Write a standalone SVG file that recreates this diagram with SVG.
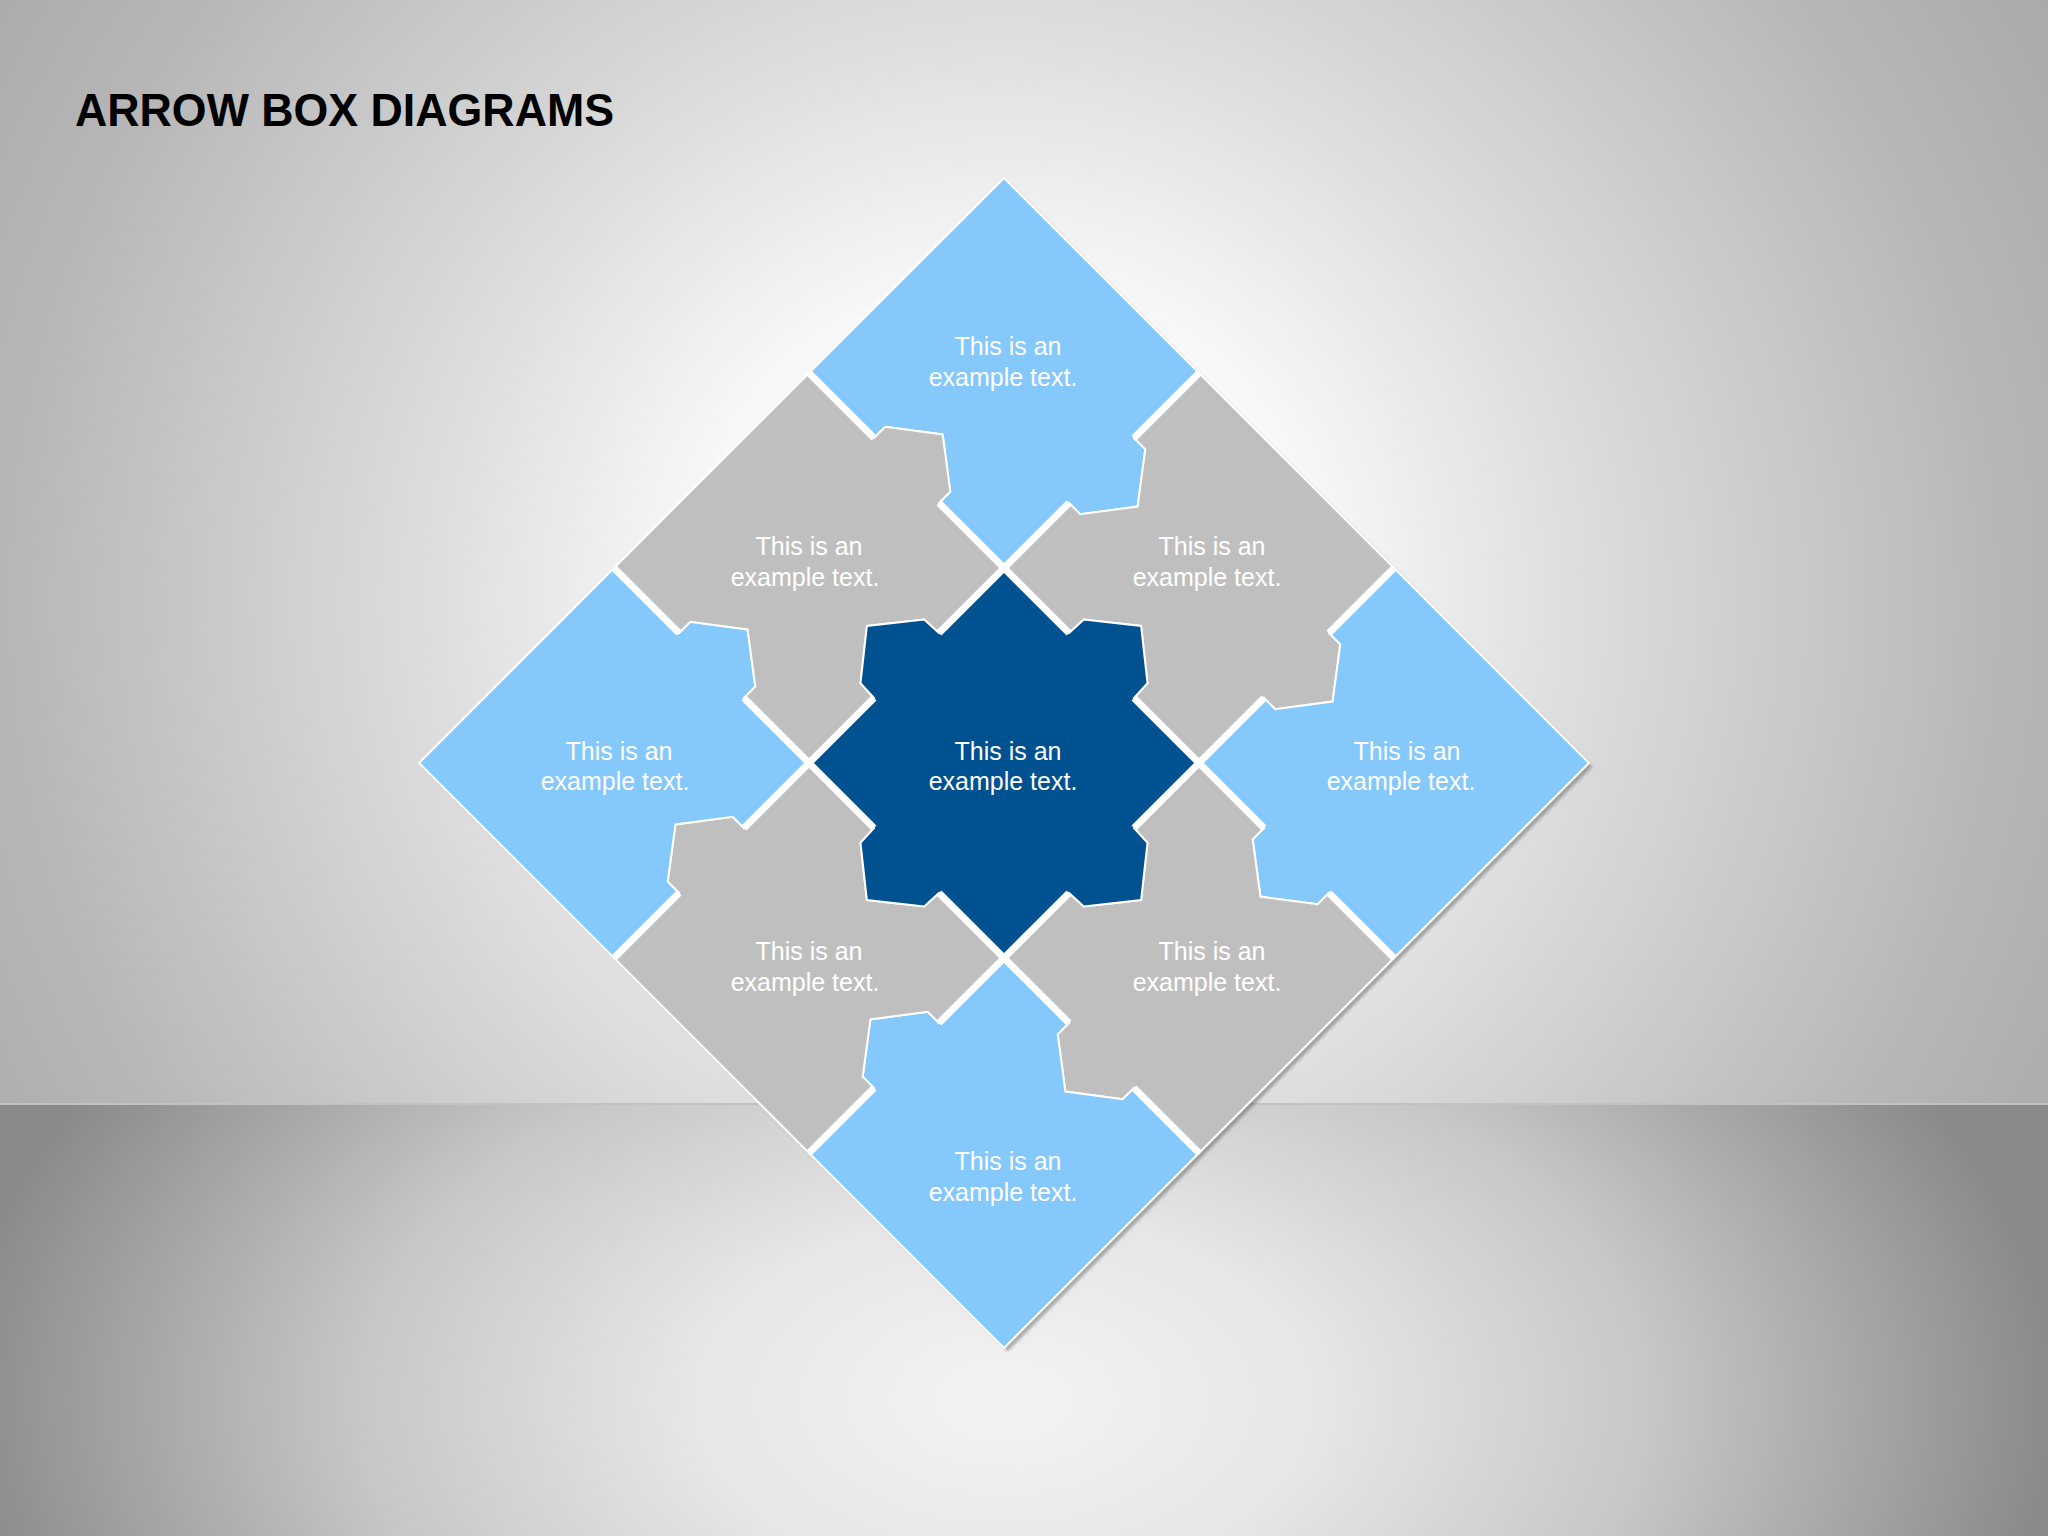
<svg xmlns="http://www.w3.org/2000/svg" width="2048" height="1536" viewBox="0 0 2048 1536">
<defs>
<radialGradient id="bgTop" gradientUnits="userSpaceOnUse" cx="1004" cy="600" r="1300">
<stop offset="0" stop-color="#ffffff"/>
<stop offset="0.24" stop-color="#f8f8f8"/>
<stop offset="0.45" stop-color="#dcdcdc"/>
<stop offset="0.77" stop-color="#b6b6b6"/>
<stop offset="1" stop-color="#a4a4a4"/>
</radialGradient>
<radialGradient id="bgBot" gradientUnits="userSpaceOnUse" cx="1004" cy="1400" r="1050" gradientTransform="translate(0 1400) scale(1 0.6) translate(0 -1400)">
<stop offset="0" stop-color="#f3f3f3"/>
<stop offset="0.3" stop-color="#e6e6e6"/>
<stop offset="0.62" stop-color="#c6c6c6"/>
<stop offset="1" stop-color="#8a8a8a"/>
</radialGradient>
<filter id="shadow" x="-10%" y="-10%" width="120%" height="120%">
<feGaussianBlur stdDeviation="1.5"/>
</filter>
<style>
.blue{fill:#85C8FB;stroke:#ffffff;stroke-width:2;stroke-linejoin:miter}
.gray{fill:#BFBFBF;stroke:#ffffff;stroke-width:2;stroke-linejoin:miter}
.dark{fill:#00518F;stroke:#ffffff;stroke-width:2;stroke-linejoin:miter}
.lbl{font-family:"Liberation Sans",Arial,sans-serif;font-size:25px;fill:#ffffff;text-anchor:middle}
.title{font-family:"Liberation Sans",Arial,sans-serif;font-size:47px;font-weight:bold;fill:#000000}
.gap{fill:none;stroke:#ffffff;stroke-width:7;stroke-linecap:butt}
</style>
</defs>
<rect x="0" y="0" width="2048" height="1104" fill="url(#bgTop)"/>
<rect x="0" y="1104" width="2048" height="432" fill="url(#bgBot)"/>
<line x1="0" y1="1104" x2="2048" y2="1104" stroke="#c2c2c2" stroke-width="2"/>
<text class="title" x="75" y="126" textLength="539" lengthAdjust="spacingAndGlyphs">ARROW BOX DIAGRAMS</text>
<polygon points="1004,178 1589,763 1004,1348 419,763" fill="#000000" opacity="0.28" transform="translate(3.5 3.5)" filter="url(#shadow)"/>
<g id="node-top">
<polygon class="blue" points="1004,178 1199,373 1134,438 1145.3,449.3 1137.6,506.6 1080.3,514.3 1069,503 1004,568 939,503 950.3,491.7 942.6,434.4 885.3,426.7 874,438 809,373"/>
<text class="lbl" x="1008" y="355">This is an</text>
<text class="lbl" x="1003" y="386">example text.</text>
</g>
<g id="node-upper-right">
<polygon class="gray" points="1199,373 1394,568 1329,633 1340.3,644.3 1332.6,701.6 1275.3,709.3 1264,698 1199,763 1134,698 1147.5,683.2 1141.1,625.9 1083.8,619.5 1069,633 1004,568 1069,503 1080.3,514.3 1137.6,506.6 1145.3,449.3 1134,438"/>
<text class="lbl" x="1212" y="555">This is an</text>
<text class="lbl" x="1207" y="586">example text.</text>
</g>
<g id="node-right">
<polygon class="blue" points="1394,568 1589,763 1394,958 1329,893 1317.7,904.3 1260.4,896.6 1252.7,839.3 1264,828 1199,763 1264,698 1275.3,709.3 1332.6,701.6 1340.3,644.3 1329,633"/>
<text class="lbl" x="1407" y="760">This is an</text>
<text class="lbl" x="1401" y="790">example text.</text>
</g>
<g id="node-lower-right">
<polygon class="gray" points="1199,763 1264,828 1252.7,839.3 1260.4,896.6 1317.7,904.3 1329,893 1394,958 1199,1153 1134,1088 1122.7,1099.3 1065.4,1091.6 1057.7,1034.3 1069,1023 1004,958 1069,893 1083.8,906.5 1141.1,900.1 1147.5,842.8 1134,828"/>
<text class="lbl" x="1212" y="960">This is an</text>
<text class="lbl" x="1207" y="991">example text.</text>
</g>
<g id="node-bottom">
<polygon class="blue" points="1004,958 1069,1023 1057.7,1034.3 1065.4,1091.6 1122.7,1099.3 1134,1088 1199,1153 1004,1348 809,1153 874,1088 862.7,1076.7 870.4,1019.4 927.7,1011.7 939,1023"/>
<text class="lbl" x="1008" y="1170">This is an</text>
<text class="lbl" x="1003" y="1201">example text.</text>
</g>
<g id="node-lower-left">
<polygon class="gray" points="809,763 874,828 860.5,842.8 866.9,900.1 924.2,906.5 939,893 1004,958 939,1023 927.7,1011.7 870.4,1019.4 862.7,1076.7 874,1088 809,1153 614,958 679,893 667.7,881.7 675.4,824.4 732.7,816.7 744,828"/>
<text class="lbl" x="809" y="960">This is an</text>
<text class="lbl" x="805" y="991">example text.</text>
</g>
<g id="node-left">
<polygon class="blue" points="614,568 679,633 690.3,621.7 747.6,629.4 755.3,686.7 744,698 809,763 744,828 732.7,816.7 675.4,824.4 667.7,881.7 679,893 614,958 419,763"/>
<text class="lbl" x="619" y="760">This is an</text>
<text class="lbl" x="615" y="790">example text.</text>
</g>
<g id="node-upper-left">
<polygon class="gray" points="809,373 874,438 885.3,426.7 942.6,434.4 950.3,491.7 939,503 1004,568 939,633 924.2,619.5 866.9,625.9 860.5,683.2 874,698 809,763 744,698 755.3,686.7 747.6,629.4 690.3,621.7 679,633 614,568"/>
<text class="lbl" x="809" y="555">This is an</text>
<text class="lbl" x="805" y="586">example text.</text>
</g>
<g id="node-center">
<polygon class="dark" points="1004,568 1069,633 1083.8,619.5 1141.1,625.9 1147.5,683.2 1134,698 1199,763 1134,828 1147.5,842.8 1141.1,900.1 1083.8,906.5 1069,893 1004,958 939,893 924.2,906.5 866.9,900.1 860.5,842.8 874,828 809,763 874,698 860.5,683.2 866.9,625.9 924.2,619.5 939,633"/>
<text class="lbl" x="1008" y="760">This is an</text>
<text class="lbl" x="1003" y="790">example text.</text>
</g>
<g id="connectors">
<path class="gap" d="M809,373 L874,438 M939,503 L1069,633 M1134,698 L1264,828 M1329,893 L1394,958
M614,568 L679,633 M744,698 L874,828 M939,893 L1069,1023 M1134,1088 L1199,1153
M1199,373 L1134,438 M1069,503 L939,633 M874,698 L744,828 M679,893 L614,958
M1394,568 L1329,633 M1264,698 L1134,828 M1069,893 L939,1023 M874,1088 L809,1153"/>
</g>
</svg>
